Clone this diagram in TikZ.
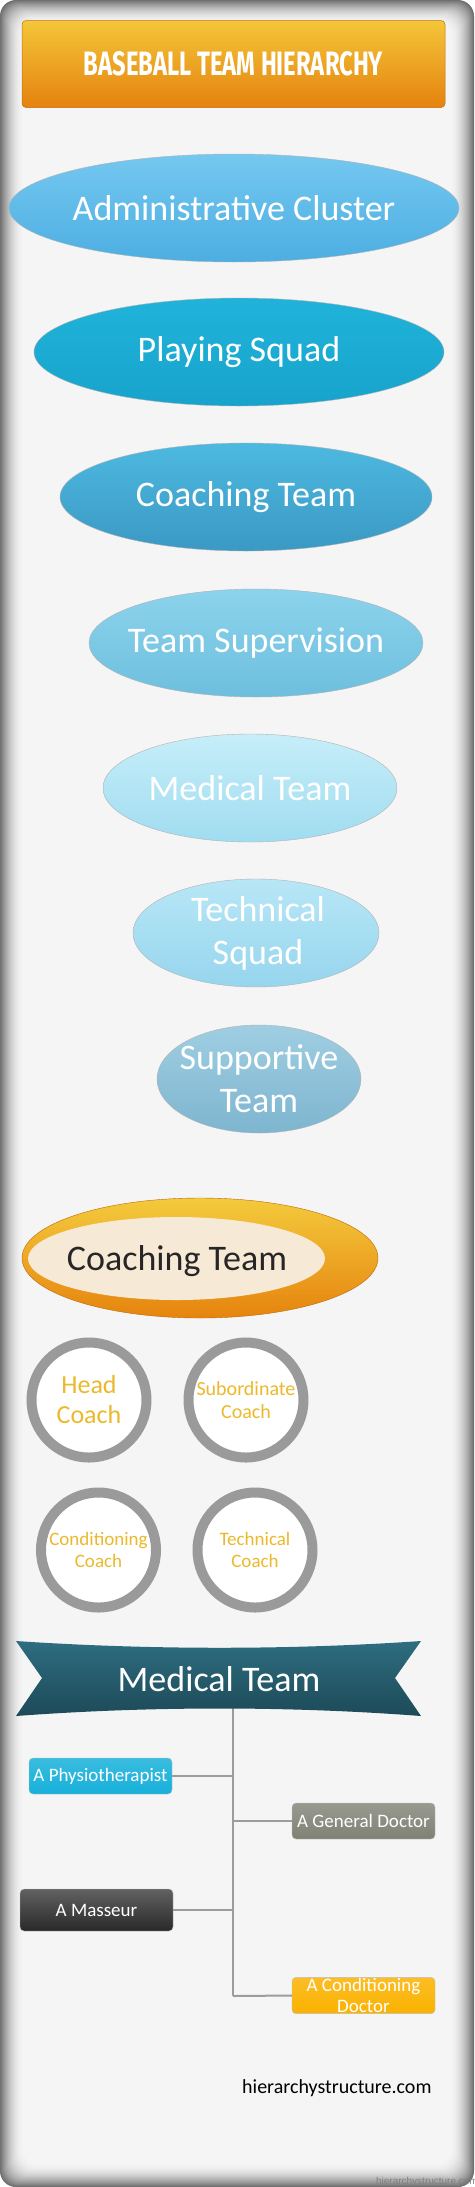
\documentclass[tikz,border=0pt]{standalone}
\usepackage{graphicx}
\usepackage{fontspec}
\setmainfont{Carlito}
\newfontfamily\titlefont{Fira Sans}
\newfontfamily\wmfont{Liberation Sans}
\usetikzlibrary{shapes.geometric}

\definecolor{titletop}{HTML}{F4C638}
\definecolor{titlebot}{HTML}{E5820F}
\definecolor{admintop}{HTML}{74C8F0}
\definecolor{adminbot}{HTML}{4DAEE2}
\definecolor{playtop}{HTML}{20B3DA}
\definecolor{playbot}{HTML}{17A3CC}
\definecolor{coachtop}{HTML}{4DB9E0}
\definecolor{coachbot}{HTML}{3B99C4}
\definecolor{supertop}{HTML}{8CD3EC}
\definecolor{superbot}{HTML}{6DBFDE}
\definecolor{medtop}{HTML}{C6EEF9}
\definecolor{medbot}{HTML}{A0DCF0}
\definecolor{techtop}{HTML}{B8E7F6}
\definecolor{techbot}{HTML}{96D5EE}
\definecolor{supptop}{HTML}{9FCEE2}
\definecolor{suppbot}{HTML}{7EB5CF}
\definecolor{orangetop}{HTML}{F4CA3C}
\definecolor{orangebot}{HTML}{E6840E}
\definecolor{cream}{HTML}{F6EAD6}
\definecolor{ringgray}{HTML}{9A9A9A}
\definecolor{goldtext}{HTML}{EBB92B}
\definecolor{bannertop}{HTML}{2E6D80}
\definecolor{bannerbot}{HTML}{1D4A58}
\definecolor{wiregray}{HTML}{9C9C9C}
\definecolor{physiocol}{HTML}{17B0DA}
\definecolor{gendoccol}{HTML}{808174}
\definecolor{masseurcol}{HTML}{3A3A3A}
\definecolor{conddoccol}{HTML}{FBB200}

\begin{document}
\begin{tikzpicture}[x=1pt,y=-1pt]
		\tikzset{bubble/.style = {ellipse, inner sep=0pt, minimum height=108pt, draw=black!30, line width=0.4pt}}
		\tikzset{bubbletext/.style = {text=white, align=center, font=\fontsize{36}{43}\selectfont}}
		\tikzset{ring/.style = {circle, draw=ringgray, line width=10pt, fill=white, minimum size=115pt, inner sep=0pt, text=goldtext, align=center}}
		\tikzset{staff/.style = {rectangle, rounded corners=4pt, minimum width=143pt, minimum height=36pt, inner sep=1pt, text=white, align=center, draw=black!25, line width=0.4pt, font=\fontsize{19}{21}\selectfont}}
		\tikzset{wire/.style = {wiregray, line width=2pt}}
		
		\useasboundingbox (0,0) rectangle (474,2187);
		
		% frame
		\foreach \i in {0,...,24} {
			\pgfmathsetmacro\lvl{4+52*(1-\i/24)^2}
			\fill[black!\lvl!white, rounded corners=16pt] (\i,\i) rectangle (474-\i,2187-\i);
		}
		
		\node[rectangle, rounded corners=4pt, minimum width=423pt, minimum height=87pt, top color=titletop, bottom color=titlebot, draw=titlebot!85!black, line width=0.5pt, text=white] (title) at (233.5,64) {\resizebox{299pt}{24pt}{\titlefont\bfseries BASEBALL TEAM HIERARCHY}};
		
		\node[bubble, minimum width=450pt, top color=admintop, bottom color=adminbot] (admin) at (234,208) {};
		\node[bubbletext] (admintxt) at (admin) {Administrative Cluster};
		\node[bubble, minimum width=410pt, top color=playtop, bottom color=playbot] (play) at (239,352) {};
		\node[bubbletext] (playtxt) at (play) {Playing Squad};
		\node[bubble, minimum width=372pt, top color=coachtop, bottom color=coachbot] (coach) at (246,497) {};
		\node[bubbletext] (coachtxt) at (coach) {Coaching Team};
		\node[bubble, minimum width=334pt, top color=supertop, bottom color=superbot] (super) at (256,643) {};
		\node[bubbletext] (supertxt) at (super) {Team Supervision};
		\node[bubble, minimum width=294pt, top color=medtop, bottom color=medbot] (med) at (250,788) {};
		\node[bubbletext] (medtxt) at (med) {Medical Team};
		\node[bubble, minimum width=246pt, top color=techtop, bottom color=techbot] (tech) at (256,933) {};
		\node[bubbletext] (techtxt) at (258,933) {Technical\\Squad};
		\node[bubble, minimum width=204pt, top color=supptop, bottom color=suppbot] (supp) at (259,1079) {};
		\node[bubbletext] (supptxt) at (supp) {Supportive\\Team};
		
		% coaching team
		\node[bubble, minimum width=356pt, minimum height=120pt, top color=orangetop, bottom color=orangebot, draw=orangebot!80!black] (coachhead) at (200,1258) {};
		\node[ellipse, fill=cream, minimum width=297pt, minimum height=83pt, inner sep=0pt] (coachin) at (176.5,1258.5) {};
		\node[text=black!85, font=\fontsize{36}{43}\selectfont] (coachintxt) at (177,1261) {Coaching Team};
		
		\node[ring, font=\fontsize{26}{30}\selectfont] (headc) at (89,1400) {Head\\Coach};
		\node[ring, font=\fontsize{20}{23}\selectfont] (subc) at (246,1400) {Subordinate\\Coach};
		\node[ring, font=\fontsize{19}{22}\selectfont] (condc) at (98.5,1550) {Conditioning\\Coach};
		\node[ring, font=\fontsize{19}{22}\selectfont] (techc) at (255,1550) {Technical\\Coach};
		
		% medical team
		\node[staff, top color=physiocol!85!white, bottom color=physiocol] (physio) at (100.5,1776) {A Physiotherapist};
		\node[staff, top color=gendoccol!80!white, bottom color=gendoccol] (gendoc) at (363.5,1821) {A General Doctor};
		\node[staff, minimum width=153pt, minimum height=42pt, top color=masseurcol!80!white, bottom color=masseurcol!70!black] (masseur) at (96.5,1910) {A Masseur};
		\node[staff, top color=conddoccol!85!white, bottom color=conddoccol] (conddoc) at (363.5,1995.5) {A Conditioning\\Doctor};
		
		\coordinate (trunktop) at (233,1706);
		\coordinate (trunkbot) at (233,1996);
		\draw[wire] (trunktop) -- (trunkbot);
		\draw[wire] (physio.east) -- (physio.east -| trunktop);
		\draw[wire] (gendoc.west) -- (gendoc.west -| trunktop);
		\draw[wire] (masseur.east) -- (masseur.east -| trunktop);
		\draw[wire] (conddoc.west) -- (trunkbot);
		
		\shade[top color=bannertop, bottom color=bannerbot] (16,1641) .. controls (150,1650) and (290,1650) .. (421,1641) -- (395,1678) -- (421,1716) .. controls (290,1706) and (150,1706) .. (16,1716) -- (42,1678) -- cycle;
		\node[text=white, font=\fontsize{36}{43}\selectfont] (banner) at (219,1679) {Medical Team};
		
		\node[anchor=east, font=\fontsize{20}{24}\selectfont] (site) at (435,2088) {hierarchystructure.com};
		\node[anchor=base east, inner sep=0pt, text=black!50, font=\wmfont\fontsize{10}{12}\selectfont] (mark) at (478,2184) {hierarchystructure.com};
\end{tikzpicture}
\end{document}
